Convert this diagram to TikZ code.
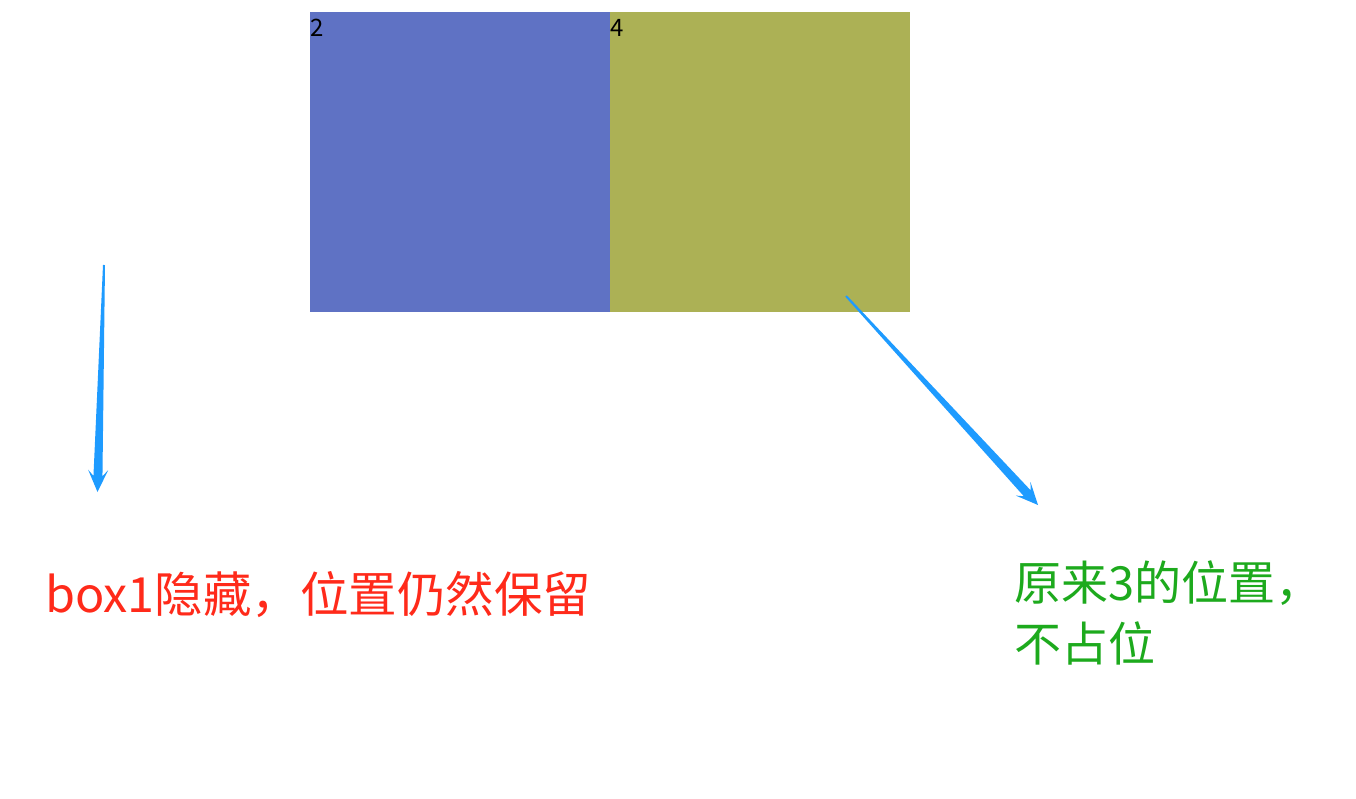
\documentclass[tikz,border=0pt]{standalone}
\usepackage{fontspec}
\setmainfont{Noto Sans CJK SC}
\usetikzlibrary{calc}
\definecolor{boxblue}{HTML}{5F72C4}
\definecolor{boxolive}{HTML}{ACB155}
\definecolor{arrowblue}{HTML}{1E9BFF}
\definecolor{txtred}{HTML}{FF2A1A}
\definecolor{txtgreen}{HTML}{1DAA1D}
\tikzset{
  box/.style={draw=none, minimum width=300pt, minimum height=300pt, inner sep=0pt, anchor=north west},
  num/.style={inner sep=0pt, anchor=base west, font=\fontsize{24}{28}\selectfont},
  note/.style={inner sep=0pt, anchor=base west, align=left},
}
\newcommand{\taperarrow}[2]{%
  \fill[arrowblue]
    ($(#1)!1pt!90:(#2)$) --
    ($(#2)!16pt!(#1)!4.5pt!-90:(#1)$) --
    ($(#2)!22pt!(#1)!10pt!-90:(#1)$) --
    (#2) --
    ($(#2)!22pt!(#1)!10pt!90:(#1)$) --
    ($(#2)!16pt!(#1)!4.5pt!90:(#1)$) --
    ($(#1)!1pt!-90:(#2)$) -- cycle;}
\begin{document}
\begin{tikzpicture}[x=1pt,y=-1pt]
\useasboundingbox[fill=white] (0,0) rectangle (1356,799);
\node[box, fill=boxblue] (b2) at (310,12) {};
\node[box, fill=boxolive] (b4) at (610,12) {};
\node[num] (l2) at (310,37) {2};
\node[num] (l4) at (610,37) {4};
\node[note, text=txtred, font=\fontsize{48.5}{60}\selectfont] (t1) at (45,612) {box1隐藏，位置仍然保留};
\node[note, text=txtgreen, font=\fontsize{47}{61}\selectfont] (t2) at (1014,661) {原来3的位置，\\不占位};
\coordinate (a1s) at (104,265);
\coordinate (a1e) at (97.5,492);
\coordinate (a2s) at (846,296);
\coordinate (a2e) at (1038,505);
\taperarrow{a1s}{a1e}
\taperarrow{a2s}{a2e}
\end{tikzpicture}
\end{document}
